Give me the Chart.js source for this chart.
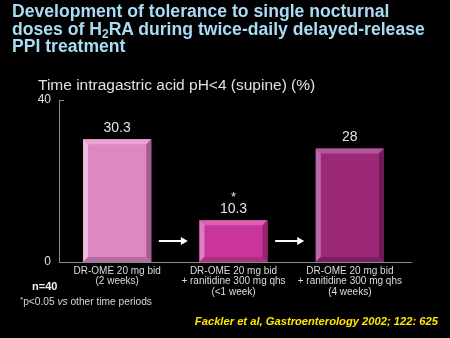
<!DOCTYPE html>
<html>
<head>
<meta charset="utf-8">
<script src="https://cdn.jsdelivr.net/npm/chart.js@4.4.0/dist/chart.umd.min.js"></script>
<style>
  html, body { margin: 0; padding: 0; background: #000; }
  #wrap { position: relative; width: 450px; height: 338px; overflow: hidden; font-family: "Liberation Sans", Arial, sans-serif; }
  #myChart { position: absolute; left: 0; top: 0; }
  .txt { position: absolute; white-space: nowrap; }
  #title { left: 12px; top: 3px; color: #a9dcf4; font-weight: bold; font-size: 17.6px; line-height: 17.5px; }
  #title sub { font-size: 12px; line-height: 0; vertical-align: -3px; }
  #ytitle { left: 38px; top: 76px; color: #e0e0e0; font-size: 15.5px; }
  #n { left: 32px; top: 280px; color: #f0f0f0; font-weight: bold; font-size: 11px; }
  #sig { left: 20px; top: 295px; color: #d8d8d8; font-size: 10.2px; }
  #sig sup { font-size: 8px; vertical-align: 3px; }
  #cite { right: 12px; top: 315px; color: #ffe600; font-weight: bold; font-style: italic; font-size: 11.2px; }
</style>
</head>
<body>
<div id="wrap">
  <canvas id="myChart" width="450" height="338"></canvas>
  <div class="txt" id="title">Development of tolerance to single nocturnal<br>doses of H<sub>2</sub>RA during twice-daily delayed-release<br>PPI treatment</div>
  <div class="txt" id="ytitle">Time intragastric acid pH&lt;4 (supine) (%)</div>
  <div class="txt" id="n">n=40</div>
  <div class="txt" id="sig"><sup>*</sup>p&lt;0.05 <i>vs</i> other time periods</div>
  <div class="txt" id="cite">Fackler et al, Gastroenterology 2002; 122: 625</div>
</div>
<script>
// data
let labels = [
    ['DR-OME 20 mg bid', '(2 weeks)'],
    ['DR-OME 20 mg bid', '+ ranitidine 300 mg qhs', '(<1 week)'],
    ['DR-OME 20 mg bid', '+ ranitidine 300 mg qhs', '(4 weeks)']
];
let values = [30.3, 10.3, 28];
let valueText = ['30.3', '10.3', '28'];
let marks = ['', '*', ''];
let yTicks = [0, 40];

// bar colours: face, top, left, right, bottom
let faces = [
    ['#de88c2', '#e9a3d3', '#f2b8df', '#a45e8e', '#b46c9e'],
    ['#c9359a', '#d962b1', '#e07cc0', '#9a2374', '#a8307f'],
    ['#9c2878', '#b2579a', '#bc68a8', '#6e1a55', '#7a2060']
];

// bevels, value labels, arrows, axis bits
let slidePlugin = {
    id: 'slide',
    afterDatasetsDraw(chart) {
        let ctx = chart.ctx;
        let area = chart.chartArea;
        let bars = chart.getDatasetMeta(0).data;
        let b = 5;
        ctx.save();

        bars.forEach((bar, i) => {
            let l = bar.x - bar.width / 2, r = bar.x + bar.width / 2;
            let t = bar.y, bt = bar.base;
            let c = faces[i];
            let poly = (pts, col) => {
                ctx.fillStyle = col;
                ctx.beginPath();
                ctx.moveTo(pts[0][0], pts[0][1]);
                pts.slice(1).forEach(p => ctx.lineTo(p[0], p[1]));
                ctx.closePath();
                ctx.fill();
            };
            poly([[l, t], [r, t], [r - b, t + b], [l + b, t + b]], c[1]);
            poly([[l, t], [l + b, t + b], [l + b, bt - b], [l, bt]], c[2]);
            poly([[r, t], [r, bt], [r - b, bt - b], [r - b, t + b]], c[3]);
            poly([[l, bt], [l + b, bt - b], [r - b, bt - b], [r, bt]], c[4]);

            ctx.fillStyle = '#e4e4e4';
            ctx.font = '14px "Liberation Sans", Arial, sans-serif';
            ctx.textAlign = 'center';
            ctx.textBaseline = 'middle';
            ctx.fillText(valueText[i], bar.x, t - 11);
            if (marks[i]) {
                ctx.font = '13px "Liberation Sans", Arial, sans-serif';
                ctx.fillText(marks[i], bar.x, t - 23);
            }
        });

        // arrows between bars
        ctx.strokeStyle = '#ffffff';
        ctx.fillStyle = '#ffffff';
        ctx.lineWidth = 2;
        let ay = area.bottom - 21;
        for (let i = 0; i < bars.length - 1; i++) {
            let gapL = bars[i].x + bars[i].width / 2;
            let gapR = bars[i + 1].x - bars[i + 1].width / 2;
            let mid = (gapL + gapR) / 2 - 2;
            let x1 = mid - 14.5, x2 = mid + 14.5;
            ctx.beginPath();
            ctx.moveTo(x1, ay);
            ctx.lineTo(x2 - 5, ay);
            ctx.stroke();
            ctx.beginPath();
            ctx.moveTo(x2, ay);
            ctx.lineTo(x2 - 7, ay - 4);
            ctx.lineTo(x2 - 7, ay + 4);
            ctx.closePath();
            ctx.fill();
        }

        // x axis line runs a bit past the plot, small inner tick at top value
        let ys = chart.scales.y;
        ctx.strokeStyle = '#8a8a8a';
        ctx.lineWidth = 1;
        ctx.beginPath();
        ctx.moveTo(area.left, Math.round(area.bottom) + 0.5);
        ctx.lineTo(area.right + 4, Math.round(area.bottom) + 0.5);
        ctx.moveTo(area.left, Math.round(ys.getPixelForValue(yTicks[1])) + 0.5);
        ctx.lineTo(area.left + 5, Math.round(ys.getPixelForValue(yTicks[1])) + 0.5);
        ctx.stroke();
        ctx.restore();
    }
};

let ctx = document.getElementById('myChart').getContext('2d');

let myChart = new Chart(ctx, {
    type: 'bar',
    data: {
        labels: labels,
        datasets: [{
            data: values,
            backgroundColor: faces.map(f => f[0]),
            borderWidth: 0,
            barPercentage: 0.586,
            categoryPercentage: 1
        }]
    },
    options: {
        responsive: false,
        animation: false,
        events: [],
        layout: { padding: { left: 0, right: 42, top: 100, bottom: 0 } },
        plugins: {
            legend: { display: false },
            tooltip: { enabled: false }
        },
        scales: {
            x: {
                grid: { display: false, drawTicks: false },
                border: { display: false },
                ticks: {
                    color: '#dcdcdc',
                    padding: 4,
                    maxRotation: 0,
                    autoSkip: false,
                    font: { family: '"Liberation Sans", Arial, sans-serif', size: 10, lineHeight: 1.03 }
                },
                afterFit: s => { s.height = 76; }
            },
            y: {
                min: 0,
                max: 40,
                afterBuildTicks: s => { s.ticks = yTicks.map(v => ({ value: v })); },
                grid: { display: false, drawTicks: false },
                border: { display: true, color: '#8a8a8a', width: 1 },
                ticks: {
                    color: '#e0e0e0',
                    padding: 8,
                    font: { family: '"Liberation Sans", Arial, sans-serif', size: 12 }
                },
                afterFit: s => { s.width = 59; }
            }
        }
    },
    plugins: [slidePlugin]
});
</script>
</body>
</html>
